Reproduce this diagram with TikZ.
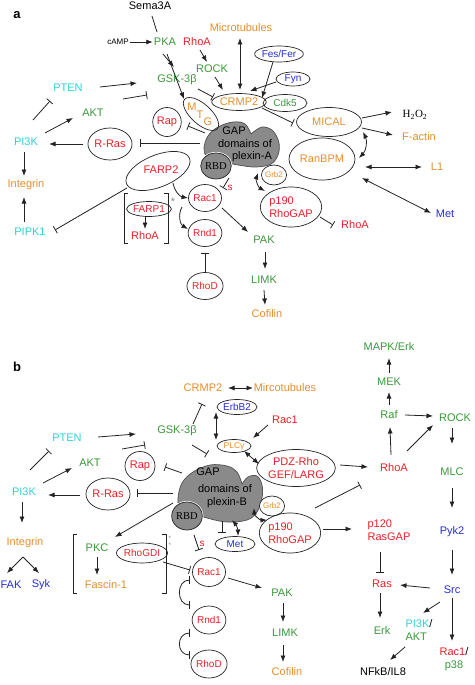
\documentclass[tikz,border=0pt]{standalone}
\usepackage{fontspec}
\setmainfont{Liberation Sans}
\newfontfamily\rbdfont{Liberation Serif}
\usepackage{tikz}
\usetikzlibrary{calc,shapes.geometric,arrows.meta}

\definecolor{plxred}{RGB}{232,32,40}
\definecolor{plxgreen}{RGB}{58,152,58}
\definecolor{plxcyan}{RGB}{48,208,216}
\definecolor{plxorange}{RGB}{228,142,46}
\definecolor{plxblue}{RGB}{38,44,214}
\definecolor{plxgray}{RGB}{138,138,138}
\definecolor{plxline}{RGB}{35,35,35}

\tikzset{
    every node/.style={font=\fontsize{11}{13}\selectfont, inner sep=1pt},
    tred/.style={text=plxred},
    tgreen/.style={text=plxgreen},
    tcyan/.style={text=plxcyan},
    torange/.style={text=plxorange},
    tblue/.style={text=plxblue},
    fsmall/.style={font=\fontsize{10}{11}\selectfont},
    ftiny/.style={font=\fontsize{8}{9}\selectfont},
    ell/.style={ellipse, draw=plxline, line width=0.7pt, inner sep=0pt},
    rbd/.style={ellipse, draw=plxline, fill=plxgray, line width=0.7pt, inner sep=0pt,
        preaction={draw=white, line width=2.2pt}, font=\rbdfont\fontsize{10.5}{11}\selectfont},
    blob/.style={fill=plxgray, draw=plxline!80, line width=0.7pt},
    act/.style={draw=plxline, line width=0.8pt, -{Latex[length=6.5pt,width=5pt]}},
    dact/.style={draw=plxline, line width=0.8pt, {Latex[length=6.5pt,width=5pt]}-{Latex[length=6.5pt,width=5pt]}},
    inh/.style={draw=plxline, line width=0.8pt, -{Bar[width=8pt]}},
    minh/.style={draw=plxline, line width=0.8pt, {Bar[width=8pt]}-{Bar[width=8pt]}}
}

\begin{document}
\begin{tikzpicture}[x=1pt, y=-1pt]
    \useasboundingbox (0,0) rectangle (474,685);

    % ---------------- panel a ----------------
    % Define the plexin-A core
    \coordinate (gapA) at (242,146);
    \path[blob] plot[smooth, tension=0.6] coordinates {(251,134) (262,127) (273,131) (279,143) (278,155) (271,164) (256,167) (238,165) (220,161) (207,157) (204,148) (208,136) (218,127) (233,122) (245,124) (251,134)} -- cycle;
    \node (gapAtxt1) at (234,131) {GAP};
    \node (gapAtxt2) at (245,144) {domains of};
    \node (gapAtxt3) at (252,157) {plexin-A};
    \node[rbd, minimum width=28pt, minimum height=26pt] (rbdA) at (216,166) {RBD};

    % Define the nodes
    \node[font=\bfseries\fontsize{13}{15}\selectfont] (labelA) at (17,15) {a};
    \node (sema) at (150,6) {Sema3A};
    \node[ftiny] (camp) at (118,42) {cAMP};
    \node[tgreen] (pkaA) at (165,42) {PKA};
    \node[tred] (rhoaA) at (197,42) {RhoA};
    \node[tgreen] (rockA) at (212,69) {ROCK};
    \node[tgreen] (gskA) at (177,80) {GSK-3β};
    \node[torange] (microA) at (241,28) {Microtubules};
    \node[ell, tblue, fsmall, minimum width=45pt, minimum height=16pt] (fes) at (279,54) {Fes/Fer};
    \node[ell, tblue, fsmall, minimum width=34pt, minimum height=14pt] (fyn) at (293,79) {Fyn};
    \node[ell, torange, minimum width=48pt, minimum height=17pt] (crmpA) at (239,102) {CRMP2};
    \node[ell, tgreen, fsmall, minimum width=44pt, minimum height=17pt] (cdk5) at (285,103) {Cdk5};
    \node[ell, rotate=-42, minimum width=44pt, minimum height=20pt] (mtg) at (201,114) {};
    \node[torange] (mtgM) at (192,107) {M};
    \node[torange] (mtgT) at (200,115) {T};
    \node[torange] (mtgG) at (208,122) {G};
    \node[tcyan] (ptenA) at (68,88) {PTEN};
    \node[tgreen] (aktA) at (93,113) {AKT};
    \node[tcyan] (pi3kA) at (26,142) {PI3K};
    \node[torange] (integrinA) at (26,185) {Integrin};
    \node[tcyan] (pipk1) at (30,232) {PIPK1};
    \node[ell, tred, minimum width=34pt, minimum height=32pt] (rrasA) at (110,144) {R-Ras};
    \node[ell, tred, minimum width=28pt, minimum height=29pt] (rapA) at (167,122) {Rap};
    \node[ell, torange, minimum width=65pt, minimum height=29pt] (micalA) at (329,122) {MICAL};
    \node (h2o2) at (415,115) {\rbdfont H\textsubscript{2}O\textsubscript{2}};
    \node[torange] (factin) at (419,137) {F-actin};
    \node[ell, torange, minimum width=66pt, minimum height=42pt] (ranbpm) at (322,159) {RanBPM};
    \node[torange] (l1) at (437,167) {L1};
    \node[tblue] (metA) at (445,214) {Met};
    \node[ell, torange, ftiny, fill=white, minimum width=21pt, minimum height=20pt] (grb2A) at (274,175) {Grb2};
    \node[ell, tred, align=left, minimum width=55pt, minimum height=40pt] (p190A) at (291,207) {p190\\RhoGAP};
    \node[tred] (rhoaA2) at (355,225) {RhoA};
    \node[ell, rotate=22, minimum width=68pt, minimum height=32pt] (farp2) at (158,171) {};
    \node[tred] (farp2txt) at (161,170) {FARP2};
    \node[ell, tred, fsmall, minimum width=42pt, minimum height=15pt] (farp1) at (149,209) {FARP1};
    \node[tred] (rhoaA3) at (145,236) {RhoA};
    \node[text=plxgray] (starA) at (173,202) {*};
    \node[ell, tred, fsmall, minimum width=30pt, minimum height=27pt] (rac1A) at (205,198) {Rac1};
    \node[ell, tred, fsmall, minimum width=30pt, minimum height=27pt] (rnd1A) at (205,233) {Rnd1};
    \node[ell, tred, fsmall, minimum width=31pt, minimum height=27pt] (rhodA) at (205,286) {RhoD};
    \node[tred, fsmall] (sA) at (230,188) {s};
    \node[tgreen] (pakA) at (264,240) {PAK};
    \node[tgreen] (limkA) at (264,280) {LIMK};
    \node[torange] (cofilinA) at (267,314) {Cofilin};

    % Brackets
    \draw[plxline, line width=0.7pt] (128,193) -- (124,193) -- (124,243) -- (128,243);
    \draw[plxline, line width=0.7pt] (164,193) -- (168,193) -- (168,243) -- (164,243);

    % Draw connectors
    \draw[plxline, line width=0.8pt] ($(sema)+(2,10)$) -- ($(pkaA)+(-8,-10)$);
    \draw[act] (camp) -- (pkaA);
    \draw[act] ($(pkaA)+(-2,12)$) -- ($(gskA)+(-3,-13)$);
    \draw[act] ($(pkaA)+(2,12)$) -- ($(mtg)+(-17,-15)$);
    \draw[act] ($(rhoaA)+(3,8)$) -- ($(rockA)+(-5,-7)$);
    \draw[act] ($(rockA)+(3,8)$) -- ($(crmpA)+(-16,-12)$);
    \draw[inh] ($(gskA)+(21,9)$) -- ($(crmpA)+(-26,-5)$);
    \draw[dact] ($(microA)+(-1,10)$) -- ($(crmpA)+(1,-12)$);
    \draw[act] ($(fes)+(-6,8)$) -- ($(crmpA)+(23,-4)$);
    \draw[act] ($(fyn)+(-17,3)$) -- ($(crmpA)+(11,-11)$);
    \draw[inh] ($(crmpA)+(23,6)$) -- ($(micalA)+(-36,1)$);
    \draw[act] ($(micalA)+(33,-4)$) -- ($(h2o2)+(-23,-3)$);
    \draw[act] ($(micalA)+(33,6)$) -- ($(factin)+(-26,-2)$);
    \draw[dact] ($(micalA)+(34,10)$) to[bend left=35] ($(ranbpm)+(37,-1)$);
    \draw[dact] ($(ranbpm)+(43,8)$) -- ($(l1)+(-15,0)$);
    \draw[dact] ($(ranbpm)+(40,19)$) -- ($(metA)+(-14,-1)$);
    \draw[dact] ($(grb2A)+(-16,-2)$) to[bend right=40] ($(p190A)+(-26,-16)$);
    \draw[inh] ($(p190A)+(29,10)$) -- ($(rhoaA2)+(-22,0)$);
    \draw[inh] ($(gapA)+(-42,-3)$) -- ($(rrasA)+(30,-1)$);
    \draw[inh] ($(gapA)+(-37,-13)$) -- ($(rapA)+(21,4)$);
    \draw[act] ($(rrasA)+(-27,0)$) -- ($(pi3kA)+(23,2)$);
    \draw[inh] ($(pi3kA)+(7,-22)$) -- ($(ptenA)+(-18,13)$);
    \draw[act] ($(pi3kA)+(19,-9)$) -- ($(aktA)+(-20,5)$);
    \draw[act] ($(ptenA)+(32,-1)$) -- ($(gskA)+(-40,3)$);
    \draw[inh] ($(aktA)+(30,-14)$) -- ($(gskA)+(-30,15)$);
    \draw[act] ($(pi3kA)+(-2,10)$) -- ($(integrinA)+(-2,-9)$);
    \draw[act] ($(pipk1)+(-6,-10)$) -- ($(integrinA)+(-2,12)$);
    \draw[inh] ($(farp2)+(-31,17)$) -- ($(pipk1)+(25,-2)$);
    \draw[act] ($(farp2)+(15,12)$) to[bend right=35] ($(rac1A)+(-17,0)$);
    \draw[act] ($(rac1A)+(-23,9)$) to[bend right=45] ($(rnd1A)+(-17,-4)$);
    \draw[inh] ($(rhodA)+(0,-13)$) -- ($(rnd1A)+(0,20)$);
    \draw[act] ($(rac1A)+(17,10)$) -- ($(pakA)+(-16,-8)$);
    \draw[act] ($(pakA)+(1,12)$) -- ($(limkA)+(1,-11)$);
    \draw[act] ($(limkA)+(0,10)$) -- ($(cofilinA)+(-2,-9)$);
    \draw[act] ($(farp1)+(-4,7)$) -- ($(rhoaA3)+(0,-7)$);
    \draw[inh] ($(rbdA)+(13,12)$) -- ($(rac1A)+(18,-10)$);

    % ---------------- panel b ----------------
    % Define the plexin-B core
    \coordinate (gapB) at (220,493);
    \path[blob] plot[smooth, tension=0.6] coordinates {(242,484) (248,477) (257,476) (262,485) (262,498) (257,512) (247,520) (227,522) (207,518) (190,512) (180,507) (178,498) (182,483) (193,472) (210,465) (227,466) (237,472) (242,484)} -- cycle;
    \node (gapBtxt1) at (208,472) {GAP};
    \node (gapBtxt2) at (225,489) {domains of};
    \node (gapBtxt3) at (227,503) {plexin-B};
    \node[rbd, minimum width=28pt, minimum height=28pt] (rbdB) at (187,516) {RBD};

    % Define the nodes
    \node[font=\bfseries\fontsize{13}{15}\selectfont] (labelB) at (17,367) {b};
    \node[torange] (crmpB) at (203,388) {CRMP2};
    \node[torange] (mircoB) at (285,388) {Mircotubules};
    \node[ell, tblue, fsmall, minimum width=40pt, minimum height=15pt] (erbb2) at (237,407) {ErbB2};
    \node[ell, torange, font=\fontsize{8.5}{9}\selectfont, minimum width=34pt, minimum height=13pt] (plcg) at (234,446) {PLCγ};
    \node[tred] (rac1B0) at (285,420) {Rac1};
    \node[ell, tred, align=center, minimum width=72pt, minimum height=37pt] (pdz) at (296,468) {PDZ-Rho\\GEF/LARG};
    \node[tred] (rhoaB) at (394,468) {RhoA};
    \node[tgreen] (raf) at (389,415) {Raf};
    \node[tgreen] (mek) at (389,382) {MEK};
    \node[tgreen] (mapk) at (389,347) {MAPK/Erk};
    \node[tgreen] (rockB) at (455,418) {ROCK};
    \node[tgreen] (mlc) at (452,472) {MLC};
    \node[tblue] (pyk2) at (452,532) {Pyk2};
    \node[tblue] (src) at (452,590) {Src};
    \node[tred, align=left] (p120) at (389,530) {p120\\RasGAP};
    \node[tred] (ras) at (382,584) {Ras};
    \node[tgreen] (erk) at (382,631) {Erk};
    \node[align=left] (pi3kakt) at (419,630) {\textcolor{plxcyan}{PI3K}/\\\textcolor{plxgreen}{AKT}};
    \node (nfkb) at (383,672) {NFkB/IL8};
    \node[align=center] (rac1p38) at (454,659) {\textcolor{plxred}{Rac1}/\\\textcolor{plxgreen}{p38}};
    \node[tcyan] (ptenB) at (67,438) {PTEN};
    \node[tgreen] (gskB) at (177,431) {GSK-3β};
    \node[tgreen] (aktB) at (90,463) {AKT};
    \node[tcyan] (pi3kB) at (24,492) {PI3K};
    \node[ell, tred, minimum width=30pt, minimum height=29pt] (rapB) at (140,466) {Rap};
    \node[ell, tred, minimum width=33pt, minimum height=32pt] (rrasB) at (108,494) {R-Ras};
    \node[torange] (integrinB) at (25,543) {Integrin};
    \node[tblue] (fak) at (11,585) {FAK};
    \node[tblue] (syk) at (41,585) {Syk};
    \node[tgreen] (pkc) at (97,548) {PKC};
    \node[torange] (fascin) at (106,585) {Fascin-1};
    \node[ell, tred, fsmall, minimum width=43pt, minimum height=20pt] (rhogdi) at (142,553) {RhoGDI};
    \node[text=plxgray, font=\fontsize{6.5}{7}\selectfont] (starB1) at (170,538) {*};
    \node[text=plxgray, font=\fontsize{6.5}{7}\selectfont] (starB2) at (170,545) {*};
    \node[ell, torange, ftiny, fill=white, minimum width=21pt, minimum height=20pt] (grb2B) at (272,506) {Grb2};
    \node[ell, tred, align=left, minimum width=54pt, minimum height=40pt] (p190B) at (290,533) {p190\\RhoGAP};
    \node[ell, tblue, fsmall, minimum width=40pt, minimum height=15pt] (metB) at (235,544) {Met};
    \node[ell, tred, fsmall, minimum width=31pt, minimum height=29pt] (rac1B) at (209,572) {Rac1};
    \node[ell, tred, fsmall, minimum width=31pt, minimum height=28pt] (rnd1B) at (209,620) {Rnd1};
    \node[ell, tred, fsmall, minimum width=31pt, minimum height=28pt] (rhodB) at (209,664) {RhoD};
    \node[tred, fsmall] (sB) at (202,544) {s};
    \node[tgreen] (pakB) at (282,593) {PAK};
    \node[tgreen] (limkB) at (285,633) {LIMK};
    \node[torange] (cofilinB) at (287,672) {Cofilin};

    % Brackets
    \draw[plxline, line width=0.7pt] (77,534) -- (73,534) -- (73,593) -- (77,593);
    \draw[plxline, line width=0.7pt] (162,534) -- (166,534) -- (166,593) -- (162,593);

    % Draw connectors
    \draw[dact] ($(crmpB)+(25,0)$) -- ($(mircoB)+(-32,0)$);
    \draw[inh] ($(gskB)+(16,-7)$) -- ($(crmpB)+(-1,16)$);
    \draw[inh] ($(gskB)+(15,14)$) -- ($(plcg)+(-27,8)$);
    \draw[dact] ($(erbb2)+(-21,5)$) -- ($(plcg)+(-18,-6)$);
    \draw[act] ($(rac1B0)+(-17,5)$) -- ($(plcg)+(19,-8)$);
    \draw[dact] ($(plcg)+(10,5)$) -- ($(pdz)+(-37,-4)$);
    \draw[act] ($(pdz)+(44,-3)$) -- ($(rhoaB)+(-26,-1)$);
    \draw[inh] ($(p190B)+(25,-25)$) -- ($(rhoaB)+(-34,17)$);
    \draw[act] ($(rhoaB)+(-3,-13)$) -- ($(raf)+(1,12)$);
    \draw[act] ($(raf)+(0,-10)$) -- ($(mek)+(0,10)$);
    \draw[act] ($(mek)+(0,-9)$) -- ($(mapk)+(0,11)$);
    \draw[act] ($(raf)+(16,0)$) -- ($(rockB)+(-22,-2)$);
    \draw[act] ($(rhoaB)+(13,-17)$) -- ($(rockB)+(-22,7)$);
    \draw[act] ($(rockB)+(-3,10)$) -- ($(mlc)+(0,-28)$);
    \draw[act] ($(mlc)+(0,16)$) -- ($(pyk2)+(0,-24)$);
    \draw[act] ($(pyk2)+(0,18)$) -- ($(src)+(0,-15)$);
    \draw[act] ($(src)+(-22,-2)$) -- ($(ras)+(18,1)$);
    \draw[act] ($(p190B)+(33,-4)$) -- ($(p120)+(-37,-1)$);
    \draw[inh] ($(p120)+(-9,22)$) -- ($(ras)+(-2,-11)$);
    \draw[act] ($(ras)+(-2,9)$) -- ($(erk)+(-2,-13)$);
    \draw[act] ($(src)+(-12,12)$) -- ($(pi3kakt)+(4,-17)$);
    \draw[act] ($(pi3kakt)+(-14,17)$) -- ($(nfkb)+(7,-12)$);
    \draw[act] ($(src)+(0,8)$) -- ($(rac1p38)+(-2,-18)$);
    \draw[act] ($(ptenB)+(31,-1)$) -- ($(gskB)+(-41,3)$);
    \draw[inh] ($(aktB)+(32,-14)$) -- ($(gskB)+(-32,14)$);
    \draw[inh] ($(pi3kB)+(6,-22)$) -- ($(ptenB)+(-18,13)$);
    \draw[act] ($(pi3kB)+(19,-9)$) -- ($(aktB)+(-18,5)$);
    \draw[act] ($(rrasB)+(-28,1)$) -- ($(pi3kB)+(24,3)$);
    \draw[inh] ($(gapB)+(-47,0)$) -- ($(rrasB)+(29,-1)$);
    \draw[inh] ($(gapB)+(-38,-20)$) -- ($(rapB)+(25,1)$);
    \draw[act] ($(gapB)+(-47,10)$) -- ($(pkc)+(18,-11)$);
    \draw[act] ($(pkc)+(0,9)$) -- ($(fascin)+(-9,-10)$);
    \draw[inh] ($(rhogdi)+(21,9)$) -- ($(rac1B)+(-19,-2)$);
    \draw[inh] ($(rbdB)+(7,19)$) -- ($(rac1B)+(-10,-22)$);
    \draw[inh] ($(gapB)+(2,28)$) -- ($(metB)+(-13,-11)$);
    \draw[dact] ($(gapB)+(12,27)$) to[bend left=20] ($(metB)+(3,-8)$);
    \draw[dact] ($(grb2B)+(-18,2)$) to[bend right=45] ($(p190B)+(-23,-13)$);
    \draw[act] ($(rac1B)+(19,6)$) -- ($(pakB)+(-20,-5)$);
    \draw[act] ($(pakB)+(1,10)$) -- ($(limkB)+(-2,-11)$);
    \draw[act] ($(limkB)+(-2,12)$) -- ($(cofilinB)+(-4,-10)$);
    \draw[act] ($(pi3kB)+(-2,10)$) -- ($(integrinB)+(-3,-20)$);
    \draw[act] ($(integrinB)+(-2,14)$) -- ($(fak)+(-4,-12)$);
    \draw[act] ($(integrinB)+(-2,14)$) -- ($(syk)+(-2,-12)$);
    \draw[minh] ($(rac1B)+(-19,8)$) .. controls +(-14,0) and +(-14,0) .. ($(rnd1B)+(-19,-15)$);
    \draw[minh] ($(rnd1B)+(-19,13)$) .. controls +(-14,0) and +(-14,0) .. ($(rhodB)+(-19,-9)$);
\end{tikzpicture}
\end{document}
